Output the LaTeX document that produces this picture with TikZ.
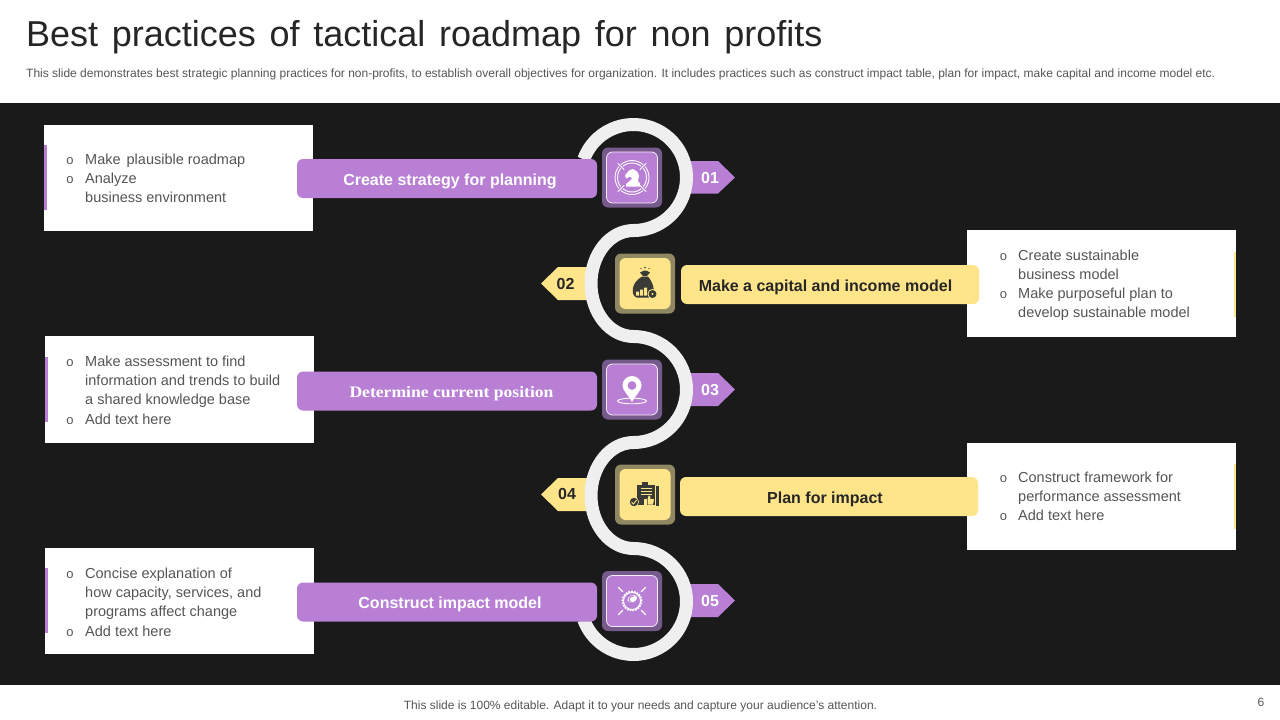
\documentclass[tikz,border=0pt]{standalone}
\usepackage{fontspec}
\setmainfont{Liberation Sans}
\newfontfamily\barserif[FakeStretch=1.1]{Liberation Serif}
\definecolor{slidebg}{HTML}{1A1A1A}
\definecolor{purplebar}{HTML}{B87FD5}
\definecolor{purpledark}{HTML}{775A8C}
\definecolor{yellowbar}{HTML}{FFE58A}
\definecolor{yellowdark}{HTML}{8F8862}
\definecolor{pathgrey}{HTML}{EFEFEF}
\definecolor{bodygrey}{HTML}{555555}
\definecolor{icondark}{HTML}{3A3A36}
\tikzset{
  infobox/.style={fill=white,minimum width=269pt,minimum height=106.5pt,inner sep=0pt},
  barbox/.style={rounded corners=6pt,minimum width=300pt,minimum height=39pt,inner sep=0pt,text height=14pt,text depth=0.8pt,font=\fontsize{16}{19}\selectfont\bfseries},
  purplebox/.style={barbox,fill=purplebar,text=white},
  yellowbox/.style={barbox,fill=yellowbar,text=black!85},
  iconouter/.style={rounded corners=6pt,minimum size=60pt,inner sep=0pt},
  iconinner/.style={rounded corners=6pt,minimum size=51pt,inner sep=0pt},
  numtext/.style={font=\fontsize{16}{19}\selectfont\bfseries,inner sep=0pt},
  listtext/.style={anchor=north west,align=left,inner sep=0pt,text=bodygrey,font=\fontsize{14.5}{19.2}\selectfont},
  listmark/.style={inner sep=0pt,text=bodygrey,font=\fontsize{13}{15}\selectfont},
}
\begin{document}
\begin{tikzpicture}[x=1pt,y=1pt]
\useasboundingbox (0,0) rectangle (1280,-720);
\fill[white] (0,0) rectangle (1280,-720);
\fill[slidebg] (0,-103) rectangle (1280,-685);
% header and footer
\node[anchor=base west,inner sep=0pt,text=black!85,font=\fontsize{36}{40}\selectfont] (title) at (26,-46) {\spaceskip=13.7pt\relax Best practices of tactical roadmap for non profits};
\node[anchor=base west,inner sep=0pt,text=bodygrey,font=\fontsize{12}{14}\selectfont] (subtitle) at (26,-77.5) {This slide demonstrates best strategic planning practices for non-profits, to establish overall objectives for organization. It includes practices such as construct impact table, plan for impact, make capital and income model etc.};
\node[inner sep=0pt,text=bodygrey,font=\fontsize{12}{14}\selectfont] (footer) at (640.5,-706) {This slide is 100\% editable. Adapt it to your needs and capture your audience’s attention.};
\node[inner sep=0pt,text=bodygrey,font=\fontsize{12}{14}\selectfont] (pagenum) at (1261,-702) {6};
% text boxes
\node[infobox] (box1) at (178.5,-178) {};
\node[infobox] (box3) at (179.5,-389.5) {};
\node[infobox] (box5) at (179.5,-601) {};
\node[infobox] (box2) at (1101.5,-283.5) {};
\node[infobox] (box4) at (1101.5,-496.5) {};
\fill[purplebar] (44,-145) rectangle (47,-210);
\fill[purplebar] (45,-357) rectangle (48,-422);
\fill[purplebar] (45,-568) rectangle (48,-633);
\fill[yellowbar] (1234,-252) rectangle (1236,-317);
\fill[yellowbar] (1234,-464) rectangle (1236,-529);
% number tags
\fill[purplebar] (685,-161) -- (718,-161) -- (735,-177.5) -- (718,-193.5) -- (685,-193.5) -- cycle;
\fill[yellowbar] (595,-267) -- (558,-267) -- (541,-283.5) -- (558,-300) -- (595,-300) -- cycle;
\fill[purplebar] (685,-373) -- (718,-373) -- (735,-389.5) -- (718,-406) -- (685,-406) -- cycle;
\fill[yellowbar] (595,-478) -- (558,-478) -- (541,-494.5) -- (558,-511) -- (595,-511) -- cycle;
\fill[purplebar] (685,-584) -- (718,-584) -- (735,-600.5) -- (718,-617) -- (685,-617) -- cycle;
\node[numtext,text=white] (num1) at (710,-178) {01};
\node[numtext,text=black!85] (num2) at (565.5,-284) {02};
\node[numtext,text=white] (num3) at (710,-390) {03};
\node[numtext,text=black!85] (num4) at (567,-494) {04};
\node[numtext,text=white] (num5) at (710,-601) {05};
% the winding road
\draw[pathgrey,line width=13pt,line join=round]
  (633.5,-177.5) ++(160:53) arc (160:-90:53)
  arc (90:270:42.5 and 53)
  arc (90:-90:53)
  arc (90:270:42.5 and 53)
  arc (90:-160:53);
% bars
\node[purplebox] (bar1) at (447,-178.5) {\hspace{6pt}Create strategy for planning};
\node[purplebox,font=\barserif\fontsize{16}{19}\selectfont\bfseries] (bar3) at (447,-391) {\hspace{9pt}Determine current position};
\node[purplebox] (bar5) at (447,-602) {\hspace{6pt}Construct impact model};
\node[yellowbox,minimum width=298pt] (bar2) at (830,-284.5) {\hspace{-9pt}Make a capital and income model};
\node[yellowbox,minimum width=298pt] (bar4) at (829,-496.5) {\hspace{-8pt}Plan for impact};
% icon squares
\node[iconouter,fill=purpledark] (icon1) at (632,-177.5) {};
\node[iconouter,fill=yellowdark] (icon2) at (645,-283.5) {};
\node[iconouter,fill=purpledark] (icon3) at (632,-389.5) {};
\node[iconouter,fill=yellowdark] (icon4) at (645,-494.5) {};
\node[iconouter,fill=purpledark] (icon5) at (632,-601) {};
\node[iconinner,fill=purplebar,draw=white!85!purplebar,line width=0.8pt] (inner1) at (632,-177.5) {};
\node[iconinner,fill=yellowbar] (inner2) at (645,-283.5) {};
\node[iconinner,fill=purplebar,draw=white!85!purplebar,line width=0.8pt] (inner3) at (632,-389.5) {};
\node[iconinner,fill=yellowbar] (inner4) at (645,-494.5) {};
\node[iconinner,fill=purplebar,draw=white!85!purplebar,line width=0.8pt] (inner5) at (632,-601) {};
% icon 1, knight in target
\begin{scope}[shift={(632,-177.5)},white]
\draw[line width=0.9pt] (0,0) circle (17);
\draw[line width=0.9pt] (0,0) circle (14.5);
\foreach \a in {45,135,225,315} \draw[line width=2.6pt,purplebar] (\a:12) -- (\a:20);
\foreach \a in {45,135,225,315} \draw[line width=0.9pt] (\a:11) -- (\a:20);
\fill (-6,-9) -- (8,-9) -- (8,-6) -- (6,-4) -- (7,2) -- (5,6) -- (1,8.5) -- (-3,7) -- (-7,2) -- (-6,-1) -- (-2,1) -- (0,-1) -- (-4,-5) -- (-6,-6.5) -- cycle;
\end{scope}
% icon 2, money bag
\begin{scope}[shift={(645,-283.5)},icondark]
\fill (-3,7) .. controls (-15,0) and (-14,-13) .. (-8,-14) -- (4,-14) .. controls (11,-13) and (10,-1) .. (3,7) -- cycle;
\fill (-5,11) -- (-2,7.5) -- (2,7.5) -- (5,11) -- (1,13) -- (-1,13) -- cycle;
\fill (0,16) circle (0.8) (-4,15) circle (0.6) (4,15) circle (0.6);
\fill[yellowbar] (-9,-12) rectangle (-6,-8) (-5,-12) rectangle (-2,-6) (-1,-12) rectangle (2,-4);
\fill[yellowbar] (7.5,-10.5) circle (5);
\fill (7.5,-10.5) circle (4);
\fill[yellowbar] (7.5,-10.5) circle (1.2);
\end{scope}
% icon 3, map pin
\begin{scope}[shift={(632,-389.5)},white]
\draw[line width=0.9pt] (0,-11.5) ellipse (14.5 and 2.8);
\fill[even odd rule] (0,-12.5) .. controls (-4,-5) and (-9.5,-1) .. (-9.5,4) arc (180:0:9.5) .. controls (9.5,-1) and (4,-5) .. (0,-12.5) -- cycle (0,4) circle (4.5);
\end{scope}
% icon 4, clipboard
\begin{scope}[shift={(645,-494.5)},icondark]
\fill (-8,9.5) rectangle (10,-10.5);
\fill (11,9) rectangle (14,-11);
\fill (-3,9.5) rectangle (3,12.5);
\draw[yellowbar,line width=0.8pt] (-4,6) -- (7,6) (-4,3) -- (7,3) (-4,0) -- (7,0);
\fill[yellowbar] (-1,-10) rectangle (1.5,-4);
\fill[yellowbar] (2.5,-10) -- (8,-10) -- (9,-4.5) -- (5.5,-4.5) -- (5,-1) -- (3.5,-1.5) -- (2.5,-4.5) -- cycle;
\fill[yellowbar] (-11,-7.5) circle (5);
\fill (-11,-7.5) circle (4.2);
\draw[yellowbar,line width=0.9pt] (-13.5,-7.5) -- (-11.5,-9.5) -- (-8.5,-5.5);
\end{scope}
% icon 5, gear target
\begin{scope}[shift={(632,-601)},white]
\draw[line width=1.8pt,densely dotted] (0,0) circle (9.5);
\draw[line width=0.9pt] (0,0) circle (8.5);
\fill[rotate=20] (1,2) ellipse (5 and 3.5);
\draw[line width=1pt,purplebar] (-1,-1) arc (250:60:3);
\foreach \a in {45,135,225,315} \draw[line width=1.2pt] (\a:13) -- (\a:19.5);
\end{scope}
% lists on the left
\node[listmark] (m1a) at (70,-161) {o};
\node[listmark] (m1b) at (70,-180) {o};
\node[listtext] (t1a) at (85,-153.7) {Make\hspace{2pt} plausible roadmap};
\node[listtext] (t1b) at (85,-172.9) {Analyze\\business environment};
\node[listmark] (m3a) at (70,-363) {o};
\node[listmark] (m3b) at (70,-421) {o};
\node[listtext] (t3a) at (85,-355.7) {Make assessment to find\\information and trends to build\\a shared knowledge base};
\node[listtext] (t3b) at (85,-413.7) {Add text here};
\node[listmark] (m5a) at (70,-575) {o};
\node[listmark] (m5b) at (70,-633) {o};
\node[listtext] (t5a) at (85,-567.7) {Concise explanation of\\how capacity, services, and\\programs affect change};
\node[listtext] (t5b) at (85,-625.7) {Add text here};
% lists on the right
\node[listmark] (m2a) at (1003.5,-257) {o};
\node[listmark] (m2b) at (1003.5,-295) {o};
\node[listtext] (t2a) at (1018,-249.7) {Create sustainable\\business model};
\node[listtext] (t2b) at (1018,-287.9) {Make purposeful plan to\\develop sustainable model};
\node[listmark] (m4a) at (1003.5,-479) {o};
\node[listmark] (m4b) at (1003.5,-517) {o};
\node[listtext] (t4a) at (1018,-471.7) {Construct framework for\\performance assessment};
\node[listtext] (t4b) at (1018,-509.9) {Add text here};
\end{tikzpicture}
\end{document}
